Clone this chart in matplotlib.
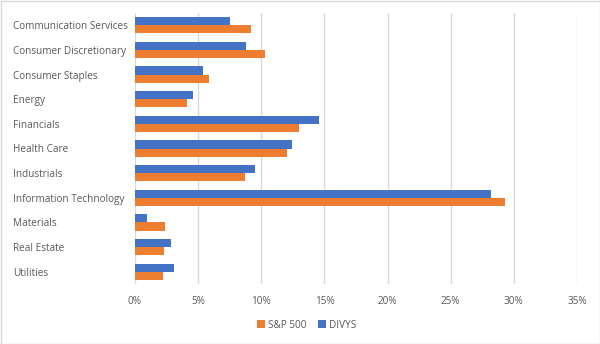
import matplotlib
matplotlib.use("Agg")
import matplotlib.pyplot as plt
from matplotlib.patches import Rectangle
from matplotlib.ticker import FuncFormatter, MultipleLocator
import numpy as np

categories = ["Communication Services", "Consumer Discretionary", "Consumer Staples",
              "Energy", "Financials", "Health Care", "Industrials",
              "Information Technology", "Materials", "Real Estate", "Utilities"]
sp500 = [9.2, 10.3, 5.85, 4.1, 13.0, 12.0, 8.7, 29.3, 2.37, 2.27, 2.2]
divys = [7.5, 8.8, 5.4, 4.6, 14.56, 12.4, 9.5, 28.2, 0.97, 2.84, 3.06]

plt.rcParams['font.family'] = ['Open Sans', 'DejaVu Sans']
txt = '#595959'
fig = plt.figure(figsize=(6, 3.44), dpi=100)
ax = fig.add_axes([135/600, 1-284/344, (577-135)/600, (284-13)/344])

y = np.arange(len(categories))
h = 0.33
ax.barh(y - h/2, divys, height=h, color='#4472C4', label='DIVYS', zorder=3)
ax.barh(y + h/2, sp500, height=h, color='#ED7D31', label='S&P 500', zorder=3)

ax.set_xlim(0, 35)
ax.set_ylim(len(categories) - 0.5, -0.5)
ax.xaxis.set_major_locator(MultipleLocator(5))
ax.xaxis.set_major_formatter(FuncFormatter(lambda v, p: f"{int(round(v))}%"))
ax.grid(axis='x', color='#d9d9d9', linewidth=1.0, zorder=0)
for s in ax.spines.values():
    s.set_visible(False)
ax.tick_params(length=0, colors=txt, labelsize=7.2)
ax.tick_params(axis='x', pad=9)
ax.set_yticks(y)
ax.set_yticklabels(categories, ha='left')
ax.tick_params(axis='y', pad=(135-13)*0.72)

handles, labels = ax.get_legend_handles_labels()
leg = fig.legend(handles[::-1], labels[::-1], loc='center', bbox_to_anchor=(0.511, 1-325/344),
                 ncol=2, frameon=False, fontsize=7.2, handlelength=0.8, handleheight=0.8,
                 handletextpad=0.3, columnspacing=1.2, labelcolor=txt)

fig.patches.append(Rectangle((0.5/600, 0.5/344), 1-1/600, 1-1/344, transform=fig.transFigure,
                             fill=False, edgecolor='#d9d9d9', linewidth=1))
fig.savefig('out.png', dpi=100)
